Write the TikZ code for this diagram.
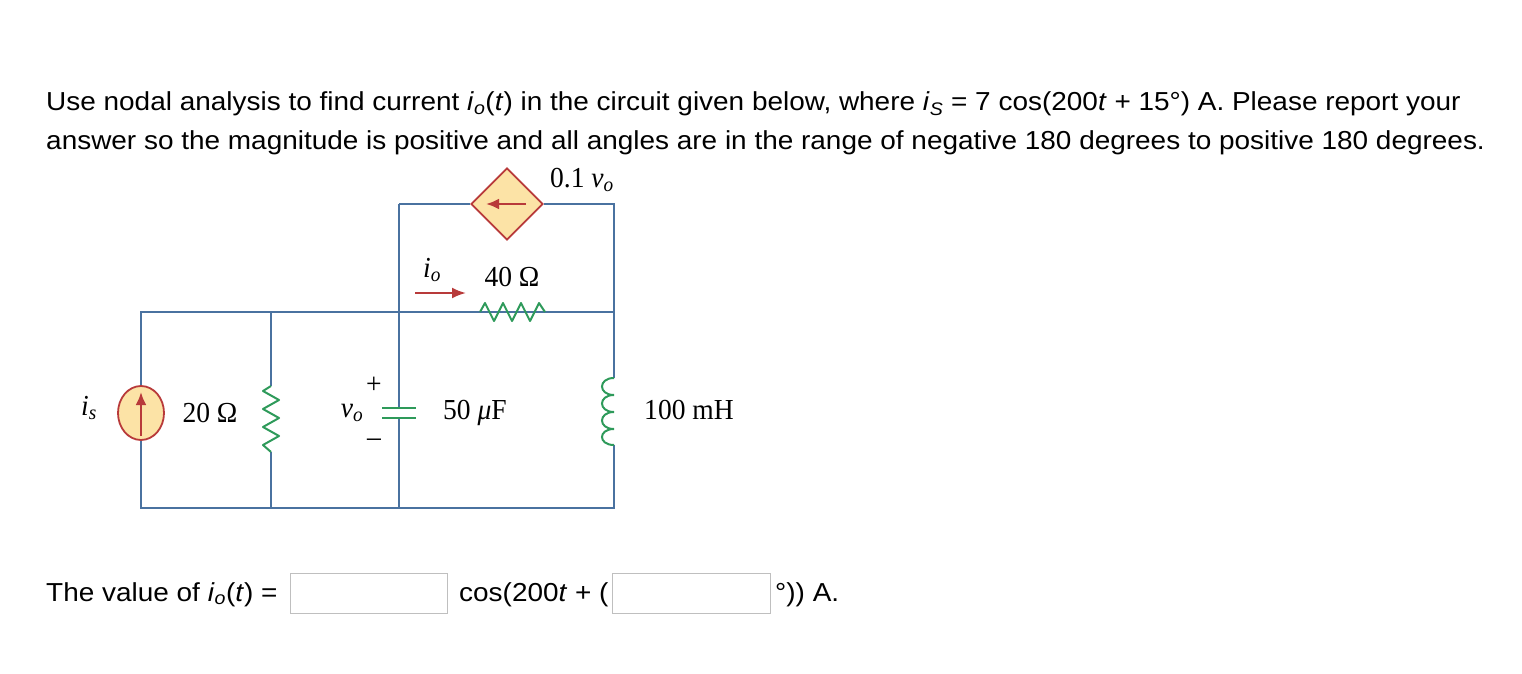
\documentclass[tikz,border=0pt]{standalone}
\usepackage{fontspec}
\setmainfont{Liberation Sans}
\newfontfamily\ser{Liberation Serif}
\usetikzlibrary{shapes.geometric,arrows.meta}
\definecolor{wire}{HTML}{4A72A0}
\definecolor{grn}{HTML}{2E9A5A}
\definecolor{rd}{HTML}{B83A3A}
\definecolor{fillc}{HTML}{FCE3A6}
\begin{document}
\begin{tikzpicture}[x=1pt,y=-1pt,
  w/.style={wire,line width=1.8pt},
  comp/.style={grn,line width=2pt},
  txt/.style={font=\fontsize{26}{30}\selectfont,anchor=base west,inner sep=0,xscale=1.075},
  lab/.style={font=\ser\fontsize{29}{32}\selectfont,inner sep=0,xscale=0.95},
  ansbox/.style={draw=black!25,line width=0.8pt}]
\useasboundingbox (0,0) rectangle (1522,674);
\node[txt] (l1) at (46,111) {Use nodal analysis to find current \textit{i}\textsubscript{\textit{o}}(\textit{t}) in the circuit given below, where \textit{i}\textsubscript{\textit{S}} = 7 cos(200\textit{t} + 15°) A. Please report your};
\node[txt] (l2) at (46,149) {answer so the magnitude is positive and all angles are in the range of negative 180 degrees to positive 180 degrees.};
% wires
\coordinate (TL) at (141,312); \coordinate (BL) at (141,508);
\coordinate (R1) at (271,312); \coordinate (R1b) at (271,508);
\coordinate (C1) at (399,312); \coordinate (C1b) at (399,508);
\coordinate (TR) at (614,312); \coordinate (BR) at (614,508);
\coordinate (UL) at (399,204); \coordinate (UR) at (614,204);
\node[draw=rd,fill=fillc,line width=1.8pt,ellipse,minimum width=46pt,minimum height=54pt,inner sep=0] (is) at (141,413) {};
\node[draw=rd,fill=fillc,line width=1.8pt,diamond,minimum size=72pt,inner sep=0] (dep) at (507,204) {};
\draw[w] (is.north) -- (TL) -- (TR) (is.south) -- (BL) -- (BR) -- (614,445);
\draw[w] (R1) -- (271,386) (271,452) -- (R1b);
\draw[w] (C1) -- (399,408) (399,418) -- (C1b);
\draw[w] (UL) -- (C1);
\draw[w] (UL) -- (dep.west) (dep.east) -- (UR) -- (TR) -- (614,378);
% 20 ohm
\draw[comp,line join=round] (271,386) -- (263,391) -- (279,400) -- (263,409) -- (279,418) -- (263,427) -- (279,436) -- (263,445) -- (271,452);
% 40 ohm
\draw[comp,line join=round] (480,312) -- (485,303) -- (494,321) -- (503,303) -- (512,321) -- (521,303) -- (530,321) -- (539,303) -- (545,312);
% cap
\draw[comp,line width=2.4pt] (382,408) -- (416,408) (382,418) -- (416,418);
% inductor
\draw[comp] (614,378) .. controls (598,378) and (598,395) .. (614,395) .. controls (598,395) and (598,412) .. (614,412) .. controls (598,412) and (598,429) .. (614,429) .. controls (598,429) and (598,445) .. (614,445);
% arrows
\draw[rd,line width=2.4pt,-{Latex[length=13pt,width=11pt]}] (141,436) -- (141,392);
\draw[rd,line width=2.4pt,-{Latex[length=13pt,width=11pt]}] (526,204) -- (486,204);
\draw[rd,line width=2.2pt,-{Latex[length=14pt,width=11pt]}] (415,293) -- (466,293);
% labels
\node[lab] (lis) at (89,408) {\textit{i\textsubscript{s}}};
\node[lab] (l20) at (210,413) {20 Ω};
\node[lab] (lvo) at (352,413) {\textit{v\textsubscript{o}}};
\node[lab] (lp) at (374,385) {+};
\node[lab] (lm) at (374,443) {–};
\node[lab] (lc) at (475,413) {50 \textit{μ}F};
\node[lab] (ll) at (689,410) {100 mH};
\node[lab] (lio) at (432,270) {\textit{i\textsubscript{o}}};
\node[lab] (l40) at (512,277) {40 Ω};
\node[lab] (ldep) at (582,180) {0.1 \textit{v\textsubscript{o}}};
% answer line
\node[txt] (a1) at (46,601) {The value of \textit{i}\textsubscript{\textit{o}}(\textit{t}) =};
\draw[ansbox] (290,573) rectangle (447,613);
\node[txt] (a2) at (459,601) {cos(200\textit{t} + (};
\draw[ansbox] (612,573) rectangle (770,613);
\node[txt] (a3) at (775,601) {°)) A.};
\end{tikzpicture}
\end{document}
